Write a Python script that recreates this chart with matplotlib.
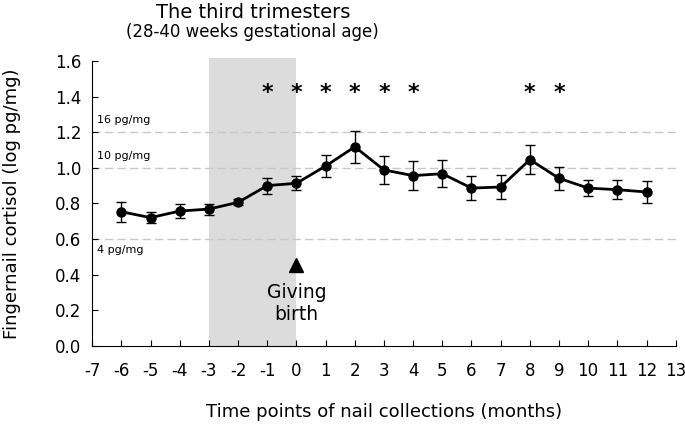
import matplotlib
matplotlib.use("Agg")
import matplotlib.pyplot as plt

plt.rcParams["axes.unicode_minus"] = False

months = [-6, -5, -4, -3, -2, -1, 0, 1, 2, 3, 4, 5, 6, 7, 8, 9, 10, 11, 12]
cortisol = [0.753, 0.72, 0.757, 0.768, 0.806, 0.90, 0.913, 1.01, 1.118, 0.988,
            0.956, 0.967, 0.886, 0.892, 1.046, 0.941, 0.886, 0.877, 0.864]
errors = [0.056, 0.03, 0.037, 0.031, 0.017, 0.045, 0.04, 0.06, 0.09, 0.08,
          0.083, 0.075, 0.066, 0.07, 0.08, 0.066, 0.043, 0.054, 0.06]
signif_months = [-1, 0, 1, 2, 3, 4, 8, 9]
ref_levels = [1.2, 1.0, 0.6]
ref_labels = ["16 pg/mg", "10 pg/mg", "4 pg/mg"]
ref_label_y = [1.27, 1.065, 0.54]
xticks = list(range(-7, 14))
yticks = [0.0, 0.2, 0.4, 0.6, 0.8, 1.0, 1.2, 1.4, 1.6]


def main():
    fig = plt.figure(figsize=(6.85, 4.3), dpi=100)
    ax = fig.add_axes([0.1347, 0.196, 0.8517, 0.662])

    # third trimester shading
    ax.fill_between([-3, 0], 0, 1.62, color="#dcdcdc", lw=0, zorder=0, clip_on=False)

    for lvl, lab, ly in zip(ref_levels, ref_labels, ref_label_y):
        ax.axhline(lvl, color="#c8c8c8", lw=1, ls=(0, (6, 3)), zorder=1)
        ax.text(-6.85, ly, lab, fontsize=8, ha="left", va="center")

    ax.errorbar(months, cortisol, yerr=errors, color="black", lw=2,
                marker="o", markersize=6.5, ecolor="black", elinewidth=1,
                capsize=3.5, capthick=1, zorder=3)

    for m in signif_months:
        ax.text(m, 1.42, "*", fontsize=16, fontweight="bold", ha="center", va="center")

    ax.plot([0], [0.455], marker="^", color="black", markersize=10, ls="none")
    ax.text(0, 0.30, "Giving", fontsize=13.5, ha="center", va="center")
    ax.text(0, 0.175, "birth", fontsize=13.5, ha="center", va="center")

    ax.text(-1.5, 1.875, "The third trimesters", fontsize=14, ha="center", va="center")
    ax.text(-1.5, 1.765, "(28-40 weeks gestational age)", fontsize=12,
            ha="center", va="center")

    ax.set_xlim(-7, 13)
    ax.set_ylim(0, 1.6)
    ax.set_xticks(xticks)
    ax.set_yticks(yticks)
    ax.set_yticklabels([f"{v:.1f}" for v in yticks])
    ax.tick_params(direction="in", labelsize=12, length=4, pad=8)
    ax.tick_params(axis="x", pad=12)
    for s in ["top", "right"]:
        ax.spines[s].set_visible(False)
    ax.set_ylabel("Fingernail cortisol (log pg/mg)", fontsize=13, labelpad=24)
    ax.set_xlabel("Time points of nail collections (months)", fontsize=13, labelpad=16)

    fig.savefig("out.png", dpi=100)
    plt.close(fig)


if __name__ == "__main__":
    main()
